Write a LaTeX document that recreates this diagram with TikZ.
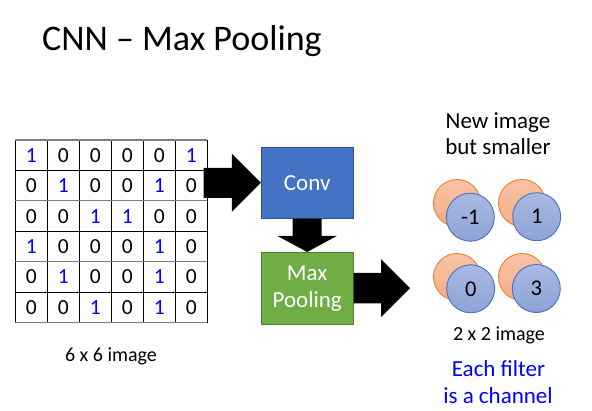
\documentclass[tikz,border=0pt]{standalone}
\usepackage{fontspec}
\setmainfont{Carlito}
\usetikzlibrary{calc}
\definecolor{convfill}{HTML}{4472C4}
\definecolor{convdraw}{HTML}{2F528F}
\definecolor{poolfill}{HTML}{70AD47}
\definecolor{pooldraw}{HTML}{507E32}
\definecolor{orgtop}{HTML}{F8C4A6}
\definecolor{orgbot}{HTML}{F4AD86}
\definecolor{orgdraw}{HTML}{ED7D31}
\definecolor{blutop}{HTML}{AAB9E2}
\definecolor{blubot}{HTML}{8CA3D6}
\definecolor{bludraw}{HTML}{4472C4}
\definecolor{digitblue}{HTML}{0000FF}
\definecolor{gridgray}{HTML}{808080}
\begin{document}
\begin{tikzpicture}[x=1pt,y=-1pt,
  cell/.style={inner sep=0pt, minimum width=32pt, minimum height=30.45pt, font=\fontsize{21.5}{24}\selectfont},
  v1/.style={text=digitblue},
  v0/.style={text=black},
  procbox/.style={minimum width=92pt, inner sep=0pt, text=white, align=center, font=\fontsize{23}{28}\selectfont},
  orange/.style={circle, minimum size=47pt, inner sep=0pt, draw=orgdraw, line width=0.9pt, top color=orgtop, bottom color=orgbot},
  bluec/.style={circle, minimum size=48pt, inner sep=0pt, draw=bludraw, line width=0.9pt, top color=blutop, bottom color=blubot, font=\fontsize{22.5}{24}\selectfont},
  blockarrow/.style={fill=black},
  label/.style={inner sep=0pt, anchor=base},
]
\useasboundingbox (0,0) rectangle (592,411);

% title
\node[inner sep=0pt, anchor=base west, font=\fontsize{36}{42}\selectfont] (title) at (42,51) {CNN – Max Pooling};

% grid
\node[inner sep=0pt, minimum width=192pt, minimum height=182.7pt] (grid) at (111.3,231.35) {};
\foreach [count=\r] \rowvals in {{1,0,0,0,0,1},{0,1,0,0,1,0},{0,0,1,1,0,0},{1,0,0,0,1,0},{0,1,0,0,1,0},{0,0,1,0,1,0}} {
  \foreach [count=\c] \v in \rowvals {
    \node[cell, v\v] (cell-\r-\c) at ({15.3+(\c-0.5)*32},{140+(\r-0.5)*30.45}) {\v};
  }
}
\foreach \i in {0,...,6} {
  \draw[black, line width=0.8pt] ({15.3+\i*32},140) -- ({15.3+\i*32},322.7);
}
\foreach \i in {1,3,5} {
  \draw[black, line width=0.8pt] (15.3,{140+\i*30.45}) -- (207.3,{140+\i*30.45});
}
\foreach \i in {0,2,4,6} {
  \draw[gridgray, line width=1.2pt] (15.3,{140+\i*30.45}) -- (207.3,{140+\i*30.45});
}

\node[label, font=\fontsize{20}{24}\selectfont] (gridlabel) at (111,361.7) {6 x 6 image};

% boxes
\node[procbox, fill=convfill, draw=convdraw, line width=0.8pt, minimum height=71pt] (conv) at (307.2,182.8) {Conv};
\node[procbox, fill=poolfill, draw=pooldraw, line width=0.8pt, minimum height=71.7pt] (pool) at (307.2,288.2) {Max\\[-1pt]Pooling};

% arrow grid -> conv
\fill[blockarrow] ($(grid.east |- conv.west)+(-4,-15)$) -- ($(conv.west)+(-29,-15)$) -- ($(conv.west)+(-29,-29)$)
  -- (conv.west) -- ($(conv.west)+(-29,29)$) -- ($(conv.west)+(-29,15)$) -- ($(grid.east |- conv.west)+(-4,15)$) -- cycle;
% arrow conv -> pool
\fill[blockarrow] ($(conv.south)+(-14.5,0)$) -- ($(pool.north)+(-14.5,-16)$) -- ($(pool.north)+(-29.7,-16)$)
  -- (pool.north) -- ($(pool.north)+(29.7,-16)$) -- ($(pool.north)+(14.5,-16)$) -- ($(conv.south)+(14.5,0)$) -- cycle;
% arrow pool -> out
\coordinate (outtip) at (410,288.2);
\fill[blockarrow] ($(pool.east)+(0,-15.3)$) -- ($(outtip)+(-29,-15.3)$) -- ($(outtip)+(-29,-29)$)
  -- (outtip) -- ($(outtip)+(-29,29)$) -- ($(outtip)+(-29,15.3)$) -- ($(pool.east)+(0,15.3)$) -- cycle;

% right side texts
\node[label, font=\fontsize{23}{28}\selectfont] (new1) at (498,128.7) {New image};
\node[label, font=\fontsize{23}{28}\selectfont] (new2) at (498,155) {but smaller};

% circles
\node[orange] (o1) at (457,203) {};
\node[orange] (o2) at (522,203) {};
\node[orange] (o3) at (457,277) {};
\node[orange] (o4) at (522,277) {};
\node[bluec] (b1) at (470.3,217.2) {-1};
\node[bluec] (b2) at (536.7,216.7) {1};
\node[bluec] (b3) at (470.7,288.8) {0};
\node[bluec] (b4) at (536.3,288.5) {3};

\node[label, font=\fontsize{20}{24}\selectfont] (small) at (499,340.7) {2 x 2 image};
\node[label, text=digitblue, font=\fontsize{23}{28}\selectfont] (each1) at (498.5,376.7) {Each filter};
\node[label, text=digitblue, font=\fontsize{23}{28}\selectfont] (each2) at (498,403.3) {is a channel};
\end{tikzpicture}
\end{document}
